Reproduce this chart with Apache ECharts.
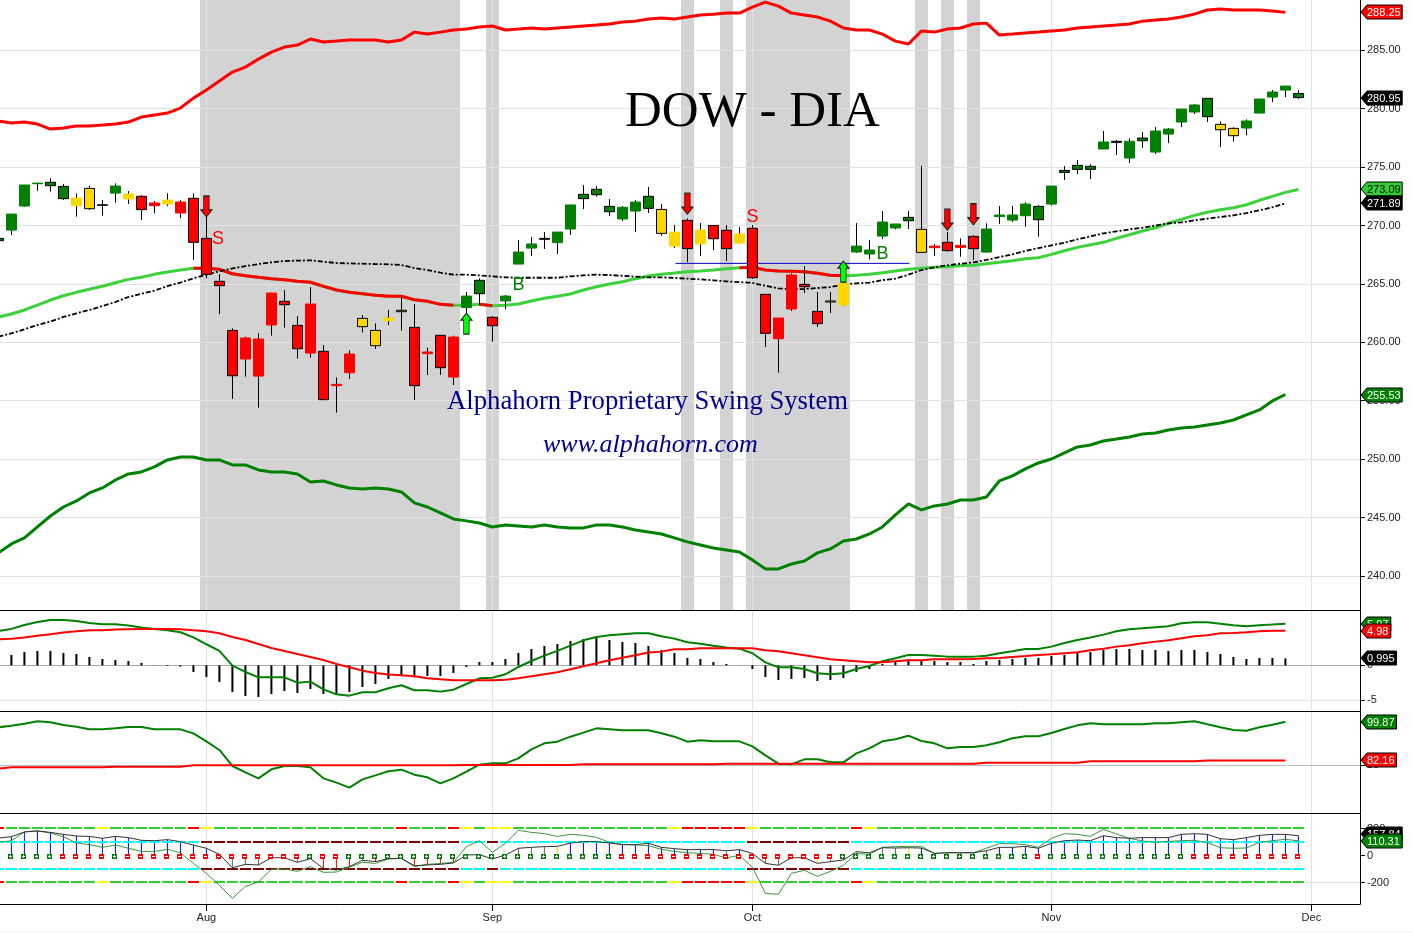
<!DOCTYPE html>
<html lang="en">
<head>
<meta charset="UTF-8">
<title>DOW - DIA</title>
<script src="https://cdn.jsdelivr.net/npm/echarts@6/dist/echarts.min.js"></script>
<style>
  html, body { margin: 0; padding: 0; background: #fff; }
  #chart { width: 1413px; height: 933px; }
</style>
</head>
<body>
<div id="chart"></div>
<script>
// daily bars, index 0 sits just off the left edge
var opens = [268.9,269.61,271.67,273.58,273.70,273.35,271.70,273.18,271.78,272.78,272.27,272.50,271.70,271.84,271.07,272.33,268.90,265.22,261.02,258.57,257.11,261.48,263.51,261.45,259.08,259.23,256.29,257.40,262.05,261.02,261.85,262.74,261.28,259.03,260.60,257.03,262.97,265.31,262.14,263.54,266.70,268.07,268.90,268.53,269.70,272.67,273.10,271.64,270.56,271.24,272.50,271.38,268.24,270.44,268.42,270.01,269.59,268.50,269.76,264.11,260.31,262.85,264.96,262.65,263.54,263.19,267.73,267.56,269.10,269.79,270.70,269.67,268.10,268.56,268.13,269.07,267.73,270.76,270.47,270.84,271.64,271.84,274.72,275.15,275.07,276.55,277.21,275.78,277.49,276.29,277.83,278.86,279.72,280.89,278.66,278.32,278.35,279.63,281.0,281.60,281.31];
var closes = [268.7,270.98,273.47,273.63,273.41,272.30,272.35,271.44,271.73,273.38,272.70,271.36,271.93,272.18,272.01,268.56,265.82,264.85,257.14,260.37,260.28,264.22,263.22,259.45,263.28,255.09,256.40,259.0,261.34,259.71,262.08,262.62,256.29,259.17,257.83,260.45,263.96,264.16,261.42,263.96,267.73,268.42,268.82,269.44,271.76,272.30,272.64,271.18,271.56,272.01,271.47,269.33,269.44,268.02,269.61,268.87,268.02,269.27,265.53,260.77,262.08,265.76,264.76,261.60,263.45,265.05,268.24,267.90,270.30,270.13,270.41,267.70,268.24,267.85,268.30,268.02,269.70,270.90,270.90,271.84,270.50,273.38,274.55,274.81,274.81,277.15,277.12,277.21,277.26,278.09,278.26,279.97,280.32,279.32,278.20,277.69,278.95,280.83,281.43,281.94,280.95];
var lows = [268.5,269.19,271.6,272.98,272.90,272.18,270.76,271.33,270.84,271.95,271.84,270.47,271.04,271.67,270.64,267.05,265.48,262.42,255.15,257.06,254.40,260.57,261.25,258.60,258.68,255.09,253.98,256.86,260.83,259.43,261.48,261.0,255.06,257.2,257.2,256.34,262.42,263.2,260.05,262.82,266.7,267.39,267.99,267.56,269.19,271.41,272.47,270.81,270.39,269.44,271.07,269.13,268.07,266.87,267.39,267.90,266.96,268.50,265.42,259.60,257.40,262.68,264.22,261.31,262.51,263.11,267.67,267.1,268.84,269.67,269.70,267.70,267.39,267.76,267.33,267.05,267.67,270.13,270.30,269.90,269.04,271.70,273.90,274.41,273.98,276.55,276.04,275.35,276.64,276.12,277.06,278.43,279.55,278.86,276.72,277.18,277.75,279.63,280.57,281.0,280.83];
var highs = [269.0,270.98,273.47,273.67,274.04,273.55,272.75,273.38,272.18,273.61,272.95,272.61,272.10,272.75,272.18,272.75,270.76,265.85,261.20,260.48,260.77,264.22,264.48,262.25,264.73,259.77,257.0,259.31,262.34,261.62,262.76,263.96,263.28,259.54,260.60,260.57,264.31,265.48,262.25,264.05,268.76,269.01,269.44,269.44,271.76,273.47,273.38,272.27,271.67,272.18,273.30,271.84,270.04,270.61,270.21,270.01,270.04,269.87,270.04,264.11,262.08,265.90,266.53,264.31,264.31,266.08,270.21,268.76,271.24,270.13,271.24,275.09,268.42,269.44,268.90,269.19,270.19,271.67,271.67,271.98,271.76,273.38,275.09,275.61,275.24,278.09,277.32,277.46,278.0,278.43,278.35,279.97,280.40,280.89,278.92,278.41,279.09,280.83,281.60,281.94,281.60];
var candleColors = 'g' + 'ggggg' + 'yyygy' + 'rryrr' + 'rrrrr' + 'rrrrr' + 'rryyy' + 'yrrrr' + 'ggrgg' + 'ggggg' + 'ggggg' + 'yyryr' + 'ryrrr' + 'rrryy' + 'ggggg' + 'yrrrr' + 'ggggg' + 'ggggg' + 'ggggg' + 'gggyy' + 'ggggg';

var upperBand = [278.95,278.77,278.86,278.69,278.26,278.35,278.52,278.52,278.60,278.69,278.86,279.29,279.46,279.63,280.06,280.91,281.60,282.37,283.14,283.57,284.25,284.85,285.28,285.45,285.97,285.71,285.79,285.88,285.88,285.88,285.71,285.88,286.56,286.39,286.56,286.74,286.82,286.99,287.08,286.74,286.82,286.91,286.82,286.91,286.99,287.08,287.16,287.25,287.42,287.50,287.68,287.76,287.68,287.85,288.02,288.10,288.19,288.19,288.70,289.13,288.79,288.19,288.02,287.85,287.50,286.91,286.74,286.74,286.39,285.79,285.54,286.65,286.56,286.82,286.91,287.25,287.33,286.31,286.39,286.48,286.56,286.65,286.74,286.91,286.99,287.08,287.16,287.25,287.50,287.59,287.68,287.85,288.10,288.45,288.53,288.45,288.45,288.45,288.36,288.25,null];
var lowerBand = [241.97,242.74,243.25,244.19,245.13,245.90,246.42,247.10,247.53,248.21,248.73,248.90,249.33,249.93,250.18,250.18,249.93,249.93,249.50,249.50,249.07,248.90,248.90,248.73,248.04,248.13,247.79,247.53,247.44,247.53,247.44,247.19,246.25,245.90,245.39,244.88,244.71,244.53,244.19,244.36,244.28,244.19,244.36,244.19,244.11,244.11,244.36,244.36,244.19,243.93,243.76,243.59,243.25,242.91,242.65,242.39,242.22,242.05,241.37,240.60,240.60,241.02,241.28,241.97,242.31,242.99,243.16,243.59,244.19,245.22,246.16,245.65,245.99,246.16,246.50,246.50,246.76,248.13,248.56,249.16,249.67,250.01,250.53,251.04,251.21,251.55,251.72,251.90,252.15,252.24,252.49,252.67,252.75,252.92,253.09,253.35,253.78,254.21,254.98,255.53,null];
var swingMa = [262.17,262.42,262.77,263.19,263.62,263.99,264.28,264.54,264.80,265.10,265.39,265.57,265.82,266.02,266.19,266.34,266.34,266.25,265.87,265.70,265.57,265.45,265.36,265.22,265.14,264.80,264.48,264.28,264.16,264.03,263.94,263.94,263.65,263.51,263.25,263.17,263.17,263.25,263.13,263.17,263.28,263.54,263.77,263.94,264.14,264.48,264.76,264.99,265.19,265.45,265.68,265.82,265.93,266.05,266.11,266.19,266.30,266.39,266.42,266.19,266.11,266.08,266.05,265.91,265.74,265.70,265.74,265.82,265.96,266.11,266.25,266.34,266.42,266.47,266.56,266.59,266.73,266.85,266.99,267.16,267.24,267.53,267.84,268.13,268.36,268.56,268.90,269.21,269.53,269.81,270.19,270.53,270.87,271.13,271.35,271.52,271.78,272.16,272.50,272.84,273.09];
var slowMa = [260.48,260.77,261.11,261.48,261.77,262.17,262.48,262.77,263.11,263.45,263.88,264.16,264.42,264.82,265.11,265.48,265.79,266.08,266.33,266.53,266.70,266.85,266.96,266.99,267.02,266.90,266.79,266.76,266.73,266.70,266.68,266.62,266.36,266.19,265.96,265.79,265.79,265.73,265.65,265.56,265.53,265.53,265.53,265.53,265.65,265.73,265.79,265.76,265.70,265.62,265.56,265.56,265.51,265.45,265.39,265.31,265.22,265.16,265.08,264.85,264.62,264.53,264.56,264.65,264.73,264.96,265.05,265.11,265.33,265.45,265.79,266.19,266.42,266.59,266.73,266.84,267.05,267.30,267.53,267.82,268.07,268.30,268.53,268.82,269.07,269.33,269.50,269.67,269.81,269.99,270.19,270.27,270.44,270.59,270.73,270.87,271.07,271.30,271.56,271.89,null];

var macdLine = [4.95,5.24,5.81,6.24,6.53,6.53,6.39,6.10,5.91,5.91,5.72,5.43,5.24,5.04,4.76,4.03,3.03,2.07,-0.05,-0.96,-1.73,-1.73,-1.73,-2.50,-2.35,-3.46,-4.18,-4.37,-3.89,-3.89,-3.31,-2.88,-3.60,-3.60,-3.79,-3.51,-2.69,-1.87,-1.78,-1.30,-0.24,0.62,1.39,2.07,2.83,3.60,4.08,4.32,4.47,4.61,4.61,4.18,3.84,3.31,3.12,2.83,2.55,2.40,1.73,0.43,-0.29,-0.29,-0.53,-1.15,-1.30,-1.15,-0.53,-0.10,0.58,1.01,1.49,1.49,1.39,1.25,1.25,1.25,1.39,1.73,2.02,2.35,2.35,2.69,3.22,3.65,3.99,4.42,4.90,5.19,5.33,5.48,5.62,6.05,6.20,6.20,6.00,5.76,5.62,5.76,5.86,5.97,null];
var macdSignal = [3.75,3.84,3.99,4.27,4.47,4.71,4.90,5.04,5.04,5.14,5.19,5.24,5.24,5.24,5.19,5.04,4.90,4.61,4.08,3.65,3.07,2.50,2.07,1.63,1.20,0.77,0.19,-0.29,-0.77,-1.10,-1.34,-1.44,-1.59,-1.87,-2.02,-2.16,-2.16,-2.16,-2.16,-2.07,-1.87,-1.59,-1.30,-1.01,-0.58,-0.14,0.29,0.72,1.10,1.44,1.83,1.97,2.31,2.31,2.45,2.45,2.45,2.45,2.45,2.16,2.02,1.73,1.44,1.15,0.86,0.72,0.58,0.43,0.43,0.58,0.72,0.72,0.86,0.86,0.86,0.91,1.01,1.06,1.20,1.34,1.49,1.59,1.73,1.87,2.16,2.40,2.69,2.88,3.17,3.41,3.60,3.89,4.18,4.32,4.61,4.66,4.75,4.90,4.99,4.98,null];
var macdHist = [null,1.49,1.92,2.07,2.07,1.78,1.63,1.20,0.91,0.77,0.62,0.34,0.03,-0.10,-0.19,-0.96,-1.68,-2.40,-3.84,-4.42,-4.56,-4.13,-3.70,-3.99,-3.41,-4.13,-4.27,-3.84,-3.12,-2.69,-1.97,-1.39,-1.73,-1.54,-1.54,-1.10,-0.24,0.48,0.48,0.91,1.78,2.35,2.79,3.07,3.51,3.79,3.94,3.65,3.36,3.22,2.79,2.21,1.78,1.06,0.91,0.48,0.19,0.02,-0.53,-1.68,-2.11,-1.97,-1.83,-2.26,-2.11,-1.83,-0.96,-0.53,0.19,0.48,0.91,0.62,0.62,0.48,0.48,0.19,0.62,0.77,0.91,1.06,1.06,1.34,1.49,1.78,1.92,2.21,2.35,2.35,2.21,2.21,2.07,2.21,2.21,1.92,1.63,1.20,0.91,1.06,1.06,0.995,null];

var stochFast = [97.33,98.09,99.0,100.08,99.62,98.40,97.63,96.41,96.41,96.87,97.48,97.48,96.41,96.41,96.41,94.58,90.92,86.95,79.62,76.72,73.97,78.09,79.62,79.62,79.01,73.97,71.98,69.69,73.51,75.34,77.18,77.94,75.65,74.43,71.68,73.97,77.0,80.23,80.84,80.84,83.13,87.25,90.0,90.76,93.05,94.89,96.87,96.41,95.95,95.95,95.95,94.58,93.05,90.76,91.37,90.92,90.92,90.92,88.63,84.50,80.69,80.38,82.67,82.67,81.30,81.30,85.42,87.71,90.92,91.83,93.51,91.07,90.0,87.71,88.32,88.32,89.08,90.46,92.29,93.21,93.21,94.73,96.56,98.24,99.16,98.70,98.70,98.70,98.70,99.16,99.16,99.62,100.08,98.70,97.33,96.11,95.80,97.33,98.55,99.87,null];
var stochSlow = [78.40,79.01,79.01,79.01,79.01,79.01,79.01,79.01,79.01,79.31,79.31,79.31,79.31,79.31,79.31,79.92,79.92,79.92,79.92,79.92,79.92,79.92,79.92,79.92,79.92,79.92,79.92,79.92,79.92,79.92,79.92,79.92,79.92,79.92,79.92,79.92,80.08,80.08,80.08,80.08,80.08,80.08,80.08,80.08,80.08,80.38,80.38,80.38,80.38,80.38,80.38,80.38,80.38,80.38,80.38,80.38,80.69,80.69,80.69,80.69,80.69,80.69,80.69,80.69,80.69,80.69,80.69,80.69,80.69,80.69,80.69,80.69,80.69,80.69,80.69,80.69,81.15,81.15,81.15,81.15,81.15,81.15,81.15,81.15,81.76,81.76,81.76,81.76,81.76,81.76,81.76,81.76,81.76,82.16,82.16,82.16,82.16,82.16,82.16,82.16,null];

var cciSlow = [131,141,176,183,173,158,146,143,129,143,134,114,111,119,104,79,55,10,-89,-64,-69,-15,-15,-49,-22,-94,-106,-81,-34,-44,-22,-20,-74,-69,-64,-54,5,8,-24,5,55,62,67,69,94,104,104,94,82,82,92,62,52,45,45,45,37,45,17,-57,-71,-15,-15,-57,-44,-32,30,22,59,57,59,57,17,22,22,22,37,62,62,69,55,92,111,116,111,148,134,129,134,134,134,158,163,158,126,119,134,151,158,158,148];
var cciFast = [99,111,176,185,168,141,94,82,62,79,55,32,32,47,22,-57,-131,-220,-316,-227,-195,-101,-98,-116,-81,-123,-121,-86,-49,-57,-24,-20,-81,-64,-57,-49,67,111,25,92,188,173,163,143,158,151,136,99,84,79,74,47,32,22,17,10,-17,3,-86,-279,-286,-131,-108,-153,-116,-71,17,10,62,67,69,69,17,22,22,22,55,89,89,82,62,129,163,158,143,195,161,129,109,99,106,111,114,97,59,55,57,99,111,121,110.31];
var cciLevels = [205, 101, -98, -194];

var monthIndex = [16, 38, 58, 81, 101];
var monthNames = ['Aug', 'Sep', 'Oct', 'Nov', 'Dec'];

var priceTicks = [240, 245, 250, 255, 260, 265, 270, 275, 280, 285];
var shadedRanges = [[16,35],[38,38],[53,53],[56,56],[58,65],[71,71],[73,73],[75,75]];
var maRedRanges = [[15,35],[37,38],[57,65]];
var levelRedRanges = [[0,0],[15,15],[31,31],[35,35],[53,57],[66,66]];
var levelYellow = [8, 16, 36, 38, 39, 52, 58, 67];
var innerDarkRanges = [[16,35],[38,38],[58,65]];
var markerRedRanges = [[5,8],[10,23],[25,26],[48,64],[80,80],[92,100]];
var stemBlueRanges = [[1,16],[44,55],[57,57],[71,71],[77,100]];
var stemRedRanges = [[25,27],[29,30],[32,35]];
var stemYellow = [43, 63, 70];

var sellArrows = [[16, 271.63], [53, 271.87], [73, 270.50], [75, 270.96]];
var buyArrows = [[36, 261.60], [65, 266.05]];
var signalLetters = [['S', 16.9, 268.84, '#ff0000'], ['S', 58, 270.73, '#ff0000'], ['B', 40, 264.9, '#008000'], ['B', 68, 267.56, '#008000']];
var resistance = [[52.08, 266.76], [70.08, 266.76]];

var priceTags = [[288.25, '288.25', '#ff0000', '#fff'], [280.95, '280.95', '#000', '#fff'], [273.09, '273.09', '#32cd32', '#000'], [271.89, '271.89', '#000', '#fff'], [255.53, '255.53', '#008000', '#fff']];
var macdTags = [[5.97, '5.97', '#008000', '#fff'], [4.98, '4.98', '#ff0000', '#fff'], [0.995, '0.995', '#000', '#fff']];
var stochTags = [[99.87, '99.87', '#008000', '#fff'], [82.16, '82.16', '#ff0000', '#fff']];
var cciTags = [[157.84, '157.84', '#000', '#fff'], [110.31, '110.31', '#008000', '#fff']];

var xMin = 1.6 / 13, xMax = 1361.6 / 13;
var palette = { g: '#008000', y: '#ffd700', r: '#ff0000' };
var labelFont = '"Liberation Sans", Arial, sans-serif';

function inRanges(k, ranges) {
    return ranges.some(function (r) { return k >= r[0] && k <= r[1]; });
}
function pts(arr) {
    return arr.map(function (v, k) { return [k, v]; });
}

function lineSeries(name, values, color, width, panel, extra) {
    var s = {
        name: name, type: 'line', xAxisIndex: panel, yAxisIndex: panel,
        data: pts(values), showSymbol: false, symbol: 'none', z: 3,
        lineStyle: { color: color, width: width }
    };
    for (var key in extra) s[key] = extra[key];
    return s;
}

function flatLine(value, color) {
    return {
        silent: true, symbol: 'none', z: 1, animation: false,
        label: { show: false },
        lineStyle: { color: color, width: 1, type: 'solid' },
        data: [{ yAxis: value }]
    };
}

// price tags sitting on the right axis
function tagSeries(tags, panel) {
    return {
        type: 'custom', xAxisIndex: panel, yAxisIndex: panel, z: 20, silent: true,
        data: tags.map(function (t) { return [xMax, t[0]]; }),
        renderItem: function (params, api) {
            var t = tags[params.dataIndex];
            var p = api.coord([api.value(0), api.value(1)]);
            var x = Math.round(p[0]) + 1, y = Math.round(p[1]);
            var w = t[1].length * 5.7 + 7;
            return {
                type: 'group',
                children: [{
                    type: 'polygon',
                    shape: { points: [[x, y], [x + 6, y - 7], [x + w, y - 7], [x + w, y + 7], [x + 6, y + 7]] },
                    style: { fill: t[2], stroke: '#000', lineWidth: 1 }
                }, {
                    type: 'text',
                    style: { text: t[1], x: x + 6, y: y + 1, fill: t[3], font: '11px ' + labelFont, verticalAlign: 'middle', align: 'left' }
                }]
            };
        }
    };
}

var grids = [
    { left: 0, width: 1360, top: 0, height: 610 },
    { left: 0, width: 1360, top: 611, height: 100 },
    { left: 0, width: 1360, top: 712, height: 101 },
    { left: 0, width: 1360, top: 814, height: 90 }
];

var xAxes = grids.map(function (g, i) {
    return {
        type: 'value', gridIndex: i, min: xMin, max: xMax,
        axisLine: { show: true, onZero: false, lineStyle: { color: '#000', width: 1 } },
        axisTick: { show: i === 3, customValues: monthIndex, length: 7, inside: false, lineStyle: { color: '#000' } },
        splitLine: { show: true, lineStyle: { color: '#e2e2e2', width: 1 } },
        axisLabel: {
            show: i === 3, customValues: monthIndex, margin: 8, color: '#222', fontFamily: labelFont, fontSize: 11,
            formatter: function (v) { return monthNames[monthIndex.indexOf(v)]; }
        }
    };
});

function yAxis(i, min, max, ticks, fmt, split) {
    return {
        type: 'value', gridIndex: i, position: 'right', min: min, max: max,
        axisLine: { show: true, onZero: false, lineStyle: { color: '#000', width: 1 } },
        axisTick: { show: true, customValues: ticks, length: 5, lineStyle: { color: '#000' } },
        splitLine: { show: split, lineStyle: { color: '#e2e2e2', width: 1 } },
        axisLabel: { customValues: ticks, margin: 7, padding: [4, 0, 0, 0], color: '#222', fontFamily: labelFont, fontSize: 11, formatter: fmt }
    };
}

var yAxes = [
    yAxis(0, 237.08, 289.31, priceTicks, function (v) { return v.toFixed(2); }, true),
    yAxis(1, -6.58, 7.82, [-5, 0, 5], function (v) { return String(v); }, false),
    yAxis(2, 58.09, 104.35, [80], function (v) { return String(v); }, false),
    yAxis(3, -357.8, 308.9, [-200, 0, 200], function (v) { return String(v); }, false)
];

var wickData = opens.map(function (o, k) { return [k, o, closes[k], lows[k], highs[k]]; });
var bodyData = opens.map(function (o, k) {
    var c = closes[k];
    var fill = palette[candleColors.charAt(k)];
    var edge = c < o ? '#000' : fill;
    return {
        value: [k, o, c, Math.min(o, c), Math.max(o, c)],
        itemStyle: { color: fill, color0: fill, borderColor: edge, borderColor0: edge, borderWidth: 1 }
    };
});

var shadeData = [];
opens.forEach(function (o, k) { if (inRanges(k, shadedRanges)) shadeData.push([k, 250]); });

var bandItems = [];
cciLevels.forEach(function (level, n) {
    opens.forEach(function (o, k) {
        var color;
        if (n === 0 || n === 3) {
            color = inRanges(k, levelRedRanges) ? '#ff0000' : (levelYellow.indexOf(k) >= 0 ? '#ffff00' : '#32cd32');
        } else {
            color = inRanges(k, innerDarkRanges) ? '#800000' : '#00ffff';
        }
        bandItems.push({ k: k, level: level, color: color });
    });
});

var arrowDown = 'path://M2.5,0 H7.5 V14 H10 L5,21 L0,14 H2.5 Z';
var arrowUp = 'path://M5,0 L10,7 H7.5 V21 H2.5 V7 H0 Z';

var option = {
    animation: false,
    backgroundColor: '#fff',
    grid: grids,
    xAxis: xAxes,
    yAxis: yAxes,
    graphic: [
        { type: 'text', left: 625, top: 87, z: 30, style: { text: 'DOW - DIA', font: '51px "Liberation Serif", serif', fill: '#000' } },
        { type: 'text', left: 447, top: 388, z: 30, style: { text: 'Alphahorn Proprietary Swing System', font: '26.7px "Liberation Serif", serif', fill: '#00008b' } },
        { type: 'text', left: 543, top: 432, z: 30, style: { text: 'www.alphahorn.com', font: 'italic 26px "Liberation Serif", serif', fill: '#00008b' } },
        { type: 'rect', left: 0, top: 932, z: 30, shape: { width: 1413, height: 1 }, style: { fill: '#eeeeee' } }
    ],
    series: [
        {
            name: 'shade', type: 'custom', xAxisIndex: 0, yAxisIndex: 0, z: -1, silent: true,
            data: shadeData,
            renderItem: function (params, api) {
                var p = api.coord([api.value(0), api.value(1)]);
                return {
                    type: 'rect',
                    shape: { x: Math.round(p[0] - 6.49), y: params.coordSys.y, width: 13, height: params.coordSys.height },
                    style: { fill: '#d3d3d3' }
                };
            }
        },
        lineSeries('upper', upperBand, '#ff0000', 3, 0),
        lineSeries('lower', lowerBand, '#008000', 3, 0),
        lineSeries('ma', swingMa, '#3cd23c', 3, 0),
        lineSeries('maRed', swingMa.map(function (v, k) { return inRanges(k, maRedRanges) ? v : null; }), '#ff0000', 3, 0),
        lineSeries('slow', slowMa, '#000', 1.8, 0, { lineStyle: { color: '#000', width: 1.8, type: [5, 2, 2, 2] } }),
        lineSeries('resistance', [], '#0000cc', 1, 0, { data: resistance }),
        {
            name: 'wick', type: 'candlestick', xAxisIndex: 0, yAxisIndex: 0, z: 5, barWidth: 1,
            encode: { x: 0, y: [1, 2, 3, 4] }, data: wickData,
            itemStyle: { color: '#000', color0: '#000', borderColor: '#000', borderColor0: '#000', borderWidth: 1 }
        },
        {
            name: 'body', type: 'candlestick', xAxisIndex: 0, yAxisIndex: 0, z: 6, barWidth: 11,
            encode: { x: 0, y: [1, 2, 3, 4] }, data: bodyData
        },
        {
            name: 'sell', type: 'scatter', xAxisIndex: 0, yAxisIndex: 0, z: 7, data: sellArrows,
            symbol: arrowDown, symbolSize: [11, 21], itemStyle: { color: '#ff0000', borderColor: '#222', borderWidth: 1, opacity: 1 }
        },
        {
            name: 'buy', type: 'scatter', xAxisIndex: 0, yAxisIndex: 0, z: 7, data: buyArrows,
            symbol: arrowUp, symbolSize: [11, 21], itemStyle: { color: '#00ff00', borderColor: '#222', borderWidth: 1, opacity: 1 }
        },
        {
            name: 'letters', type: 'custom', xAxisIndex: 0, yAxisIndex: 0, z: 8, silent: true,
            data: signalLetters.map(function (s) { return [s[1], s[2]]; }),
            renderItem: function (params, api) {
                var s = signalLetters[params.dataIndex];
                var p = api.coord([api.value(0), api.value(1)]);
                return {
                    type: 'text',
                    style: { text: s[0], x: p[0], y: p[1], fill: s[3], font: '18px ' + labelFont, align: 'center', verticalAlign: 'middle' }
                };
            }
        },
        tagSeries(priceTags, 0),

        {
            name: 'hist', type: 'bar', xAxisIndex: 1, yAxisIndex: 1, barWidth: 2, z: 2,
            data: pts(macdHist), itemStyle: { color: '#000' }
        },
        lineSeries('macd', macdLine, '#008000', 2, 1, { markLine: { silent: true, symbol: 'none', z: 1, label: { show: false }, lineStyle: { color: '#aaa', width: 1, type: 'solid' }, data: [{ yAxis: 0 }] } }),
        lineSeries('signal', macdSignal, '#ff0000', 2, 1, { markLine: flatLine(-5, '#e2e2e2') }),
        tagSeries(macdTags, 1),

        lineSeries('stochFast', stochFast, '#008000', 2, 2, { markLine: flatLine(80, '#bbb') }),
        lineSeries('stochSlow', stochSlow, '#ff0000', 2, 2),
        tagSeries(stochTags, 2),

        {
            name: 'stems', type: 'bar', xAxisIndex: 3, yAxisIndex: 3, barWidth: 1, z: 2,
            data: pts(cciSlow).slice(1),
            itemStyle: {
                color: function (p) {
                    var k = p.value[0];
                    if (inRanges(k, stemBlueRanges)) return '#0000ff';
                    if (inRanges(k, stemRedRanges)) return '#ff0000';
                    if (stemYellow.indexOf(k) >= 0) return '#ffe000';
                    return '#666';
                }
            }
        },
        {
            name: 'levels', type: 'custom', xAxisIndex: 3, yAxisIndex: 3, z: 3, silent: true,
            data: bandItems.map(function (b) { return [b.k, b.level]; }),
            renderItem: function (params, api) {
                var p = api.coord([api.value(0), api.value(1)]);
                return {
                    type: 'rect',
                    shape: { x: Math.round(p[0] - 5.5), y: Math.round(p[1] - 1), width: 11, height: 2 },
                    style: { fill: bandItems[params.dataIndex].color }
                };
            }
        },
        lineSeries('cciFast', cciFast, '#3a963a', 1, 3, { markLine: flatLine(-200, '#e2e2e2') }),
        lineSeries('cciSlow', cciSlow, '#333', 1, 3),
        {
            name: 'markers', type: 'custom', xAxisIndex: 3, yAxisIndex: 3, z: 6, silent: true,
            data: pts(cciSlow).slice(1).map(function (d) { return [d[0], 0]; }),
            renderItem: function (params, api) {
                var p = api.coord([api.value(0), api.value(1)]);
                var cx = Math.round(p[0]), cy = Math.round(p[1]);
                var red = inRanges(api.value(0), markerRedRanges);
                var kids = [
                    { type: 'rect', shape: { x: cx - 3, y: cy - 2, width: 5, height: 5 }, style: { fill: red ? '#ff0000' : '#008000' } },
                    { type: 'rect', shape: { x: cx - 2, y: cy, width: 3, height: 1 }, style: { fill: '#fff' } }
                ];
                if (!red) kids.push({ type: 'rect', shape: { x: cx - 1, y: cy - 1, width: 1, height: 3 }, style: { fill: '#fff' } });
                return { type: 'group', children: kids };
            }
        },
        tagSeries(cciTags, 3)
    ]
};

var chart = echarts.init(document.getElementById('chart'));
chart.setOption(option);
</script>
</body>
</html>
